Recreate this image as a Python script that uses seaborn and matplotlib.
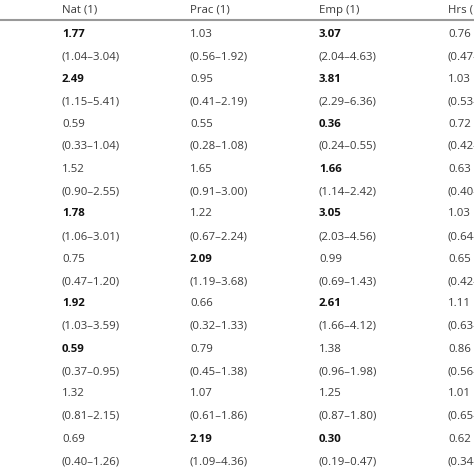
import matplotlib
matplotlib.use("Agg")
import matplotlib.pyplot as plt
import seaborn as sns

headers = ["Nat (1)", "Prac (1)", "Emp (1)", "Hrs (1)"]
nat = ["1.77", "2.49", "0.59", "1.52", "1.78", "0.75", "1.92", "0.59", "1.32", "0.69"]
nat_ci = ["(1.04–3.04)", "(1.15–5.41)", "(0.33–1.04)", "(0.90–2.55)", "(1.06–3.01)", "(0.47–1.20)", "(1.03–3.59)", "(0.37–0.95)", "(0.81–2.15)", "(0.40–1.26)"]
nat_b = [1, 1, 0, 0, 1, 0, 1, 1, 0, 0]
prac = ["1.03", "0.95", "0.55", "1.65", "1.22", "2.09", "0.66", "0.79", "1.07", "2.19"]
prac_ci = ["(0.56–1.92)", "(0.41–2.19)", "(0.28–1.08)", "(0.91–3.00)", "(0.67–2.24)", "(1.19–3.68)", "(0.32–1.33)", "(0.45–1.38)", "(0.61–1.86)", "(1.09–4.36)"]
prac_b = [0, 0, 0, 0, 0, 1, 0, 0, 0, 1]
emp = ["3.07", "3.81", "0.36", "1.66", "3.05", "0.99", "2.61", "1.38", "1.25", "0.30"]
emp_ci = ["(2.04–4.63)", "(2.29–6.36)", "(0.24–0.55)", "(1.14–2.42)", "(2.03–4.56)", "(0.69–1.43)", "(1.66–4.12)", "(0.96–1.98)", "(0.87–1.80)", "(0.19–0.47)"]
emp_b = [1, 1, 1, 1, 1, 0, 1, 0, 0, 1]
hrs = ["0.76", "1.03", "0.72", "0.63", "1.03", "0.65", "1.11", "0.86", "1.01", "0.62"]
hrs_ci = ["(0.47–1.23)", "(0.53–2.00)", "(0.42–1.24)", "(0.40–1.00)", "(0.64–1.66)", "(0.42–1.01)", "(0.63–1.95)", "(0.56–1.32)", "(0.65–1.57)", "(0.34–1.13)"]
hrs_b = [0] * 10

sns.set_theme(style="white")
plt.rcParams["font.family"] = ["Open Sans", "DejaVu Sans"]

fig = plt.figure(figsize=(4.74, 4.74), dpi=100)
ax = fig.add_axes([0, 0, 1, 1])
ax.set_xlim(0, 474)
ax.set_ylim(474, 0)
ax.axis("off")

col_x = [62, 190, 319, 448]
color = "#3a3a3a"
fs = 8.2
for x, h in zip(col_x, headers):
    ax.text(x, 10, h, ha="left", va="center", fontsize=fs, color=color)
ax.plot([0, 474], [20, 20], color="#999999", lw=1.5)

cols = [(nat, nat_ci, nat_b), (prac, prac_ci, prac_b), (emp, emp_ci, emp_b), (hrs, hrs_ci, hrs_b)]
step = 22.5
y0 = 34
for x, (vals, cis, bold) in zip(col_x, cols):
    for i, (v, c, b) in enumerate(zip(vals, cis, bold)):
        y = y0 + 2 * i * step
        ax.text(x, y, v, ha="left", va="center", fontsize=fs, color="#111111" if b else color,
                fontweight="bold" if b else "normal")
        ax.text(x, y + step, c, ha="left", va="center", fontsize=fs, color=color)

fig.savefig("out.png", dpi=100)
